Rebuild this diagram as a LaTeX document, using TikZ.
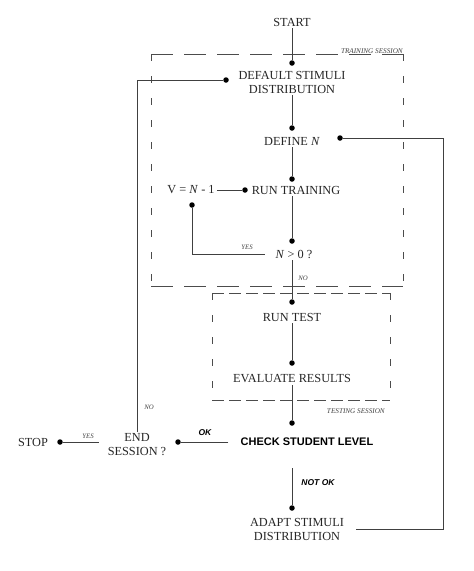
\documentclass[tikz,border=0pt]{standalone}
\usepackage{fontspec}
\setmainfont{Liberation Serif}
\setsansfont{Liberation Sans}
\begin{document}
\begin{tikzpicture}[x=1pt,y=-1pt,
    txt/.style={font=\fontsize{12.3}{14}\selectfont, align=center, inner sep=2pt, text=black!85},
    chk/.style={font=\sffamily\bfseries\fontsize{11}{13}\selectfont, inner sep=2pt},
    lbl/.style={font=\itshape\fontsize{6.8}{7}\selectfont, inner sep=1pt, text=black!75},
    sess/.style={font=\itshape\fontsize{7.2}{8}\selectfont, inner sep=0pt, text=black!75},
    okl/.style={font=\sffamily\bfseries\itshape\fontsize{8.5}{10}\selectfont, inner sep=1pt},
    dot/.style={circle, fill=black, inner sep=0pt, minimum size=5.5pt},
    wire/.style={draw=black!75, line width=0.8pt},
    hdash/.style={draw=black!70, line width=0.9pt, dash pattern=on 22pt off 11pt},
    hdashb/.style={draw=black!70, line width=0.9pt, dash pattern=on 12pt off 5pt},
    vdash/.style={draw=black!70, line width=0.9pt, dash pattern=on 7pt off 15pt}]

\useasboundingbox (0,0) rectangle (474,571);

% training session box
\draw [hdash] (151,54) -- (403,54);
\draw [hdash] (151,286) -- (403,286);
\draw [vdash] (151,54) -- (151,286);
\draw [vdash] (403,54) -- (403,286);
\node [sess, anchor=base east] (trainlbl) at (403,53) {TRAINING SESSION};

% testing session box
\draw [hdashb] (212,293) -- (390,293);
\draw [hdashb] (212,400) -- (390,400);
\draw [vdash] (212,293) -- (212,400);
\draw [vdash] (390,293) -- (390,400);
\node [sess, anchor=base east] (testlbl) at (385,413) {TESTING SESSION};

\node [txt] (start) at (292,22) {START};
\node [dot] (d1) at (292,63) {};
\node [txt] (dflt) at (292,82) {DEFAULT STIMULI\\DISTRIBUTION};
\node [dot] (d2) at (226,80) {};
\node [dot] (d3) at (292,128) {};
\node [txt] (defn) at (292,141) {DEFINE \textit{N}};
\node [dot] (d4) at (340,138) {};
\node [dot] (d5) at (292,179) {};
\node [txt] (train) at (296,190) {RUN TRAINING};
\node [dot] (d6) at (245,190) {};
\node [txt] (decr) at (191,190) {V = \textit{N} - 1};
\node [dot] (d7) at (192,205) {};
\node [dot] (d8) at (292,241) {};
\node [txt] (cond) at (294,254) {\textit{N} > 0 ?};
\node [lbl] (yes1) at (247,247) {YES};
\node [lbl] (no1) at (303,278) {NO};
\node [dot] (d9) at (292,302) {};
\node [txt] (test) at (292,317) {RUN TEST};
\node [dot] (d10) at (292,363) {};
\node [txt] (eval) at (292,379) {EVALUATE RESULTS};
\node [dot] (d11) at (292,423) {};
\node [chk] (check) at (307,442) {CHECK STUDENT LEVEL};
\node [dot] (d12) at (178,442) {};
\node [okl] (ok) at (205,433) {OK};
\node [txt] (endsn) at (137,445) {END\\SESSION ?};
\node [dot] (d13) at (60,442) {};
\node [txt] (stop) at (33,442) {STOP};
\node [lbl] (yes2) at (88,436) {YES};
\node [lbl] (no2) at (149,407) {NO};
\node [okl] (notok) at (318,483) {NOT OK};
\node [dot] (d14) at (292,508) {};
\node [txt] (adapt) at (297,529) {ADAPT STIMULI\\DISTRIBUTION};
\coordinate (rt) at (443,138);

\draw [wire] (start) -- (d1);
\draw [wire] (dflt) -- (d3);
\draw [wire] (defn) -- (d5);
\draw [wire] (decr) -- (d6);
\draw [wire] (d8 |- train.south) -- (d8);
\draw [wire] ([xshift=-9pt]cond.west) -| (d7);
\draw [wire] (d9 |- cond.south) -- (d9);
\draw [wire] (test) -- (d10);
\draw [wire] (eval) -- (d11);
\draw [wire] ([xshift=-10pt]check.west) -- (d12);
\draw [wire] ([xshift=-7pt]endsn.west |- d13) -- (d13);
\draw [wire] (endsn.north) |- (d2);
\draw [wire] ([yshift=-20pt]d14 |- check.south) -- (d14);
\draw [wire] ([xshift=10pt]adapt.east) -| (rt) -- (d4);

\end{tikzpicture}
\end{document}
